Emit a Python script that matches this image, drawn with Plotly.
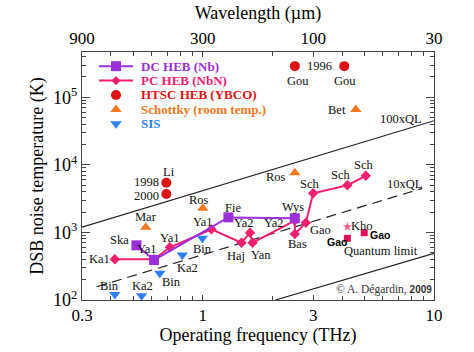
import math
import plotly.graph_objects as go

# ---------------- data ----------------
dc_f = [0.516, 0.615, 1.29, 2.5]
dc_T = [644, 391, 1670, 1620]

pc_f = [0.416, 0.615, 0.72, 1.09, 1.47, 1.60, 1.64, 2.5, 2.5, 2.79, 3.0, 4.22, 5.07]
pc_T = [400, 400, 603, 1110, 705, 990, 705, 1500, 946, 1390, 3790, 4980, 6900]

htsc_f = [0.695, 0.695, 2.5, 4.09]
htsc_T = [5430, 3700, 289000, 289000]

sch_f = [0.566, 1.0, 2.5, 4.59]
sch_T = [1190, 2270, 7640, 66200]

sis_f = [0.416, 0.543, 0.651, 0.815, 0.995]
sis_T = [121, 116, 248, 463, 818]

gao_f = [4.22, 4.99]
gao_T = [818, 990]
kho_f = [4.22]
kho_T = [1213]

ql100_f = [0.3, 10.0]
ql100_T = [1200, 45000]
ql10_f = [0.347, 8.9]
ql10_T = [157, 4490]
ql_f = [2.06, 10.0]
ql_T = [100, 490]

x_tickvals = [0.3, 1, 3, 10]
x_ticktext = ["0.3", "1", "3", "10"]
wl_ticktext = ["900", "300", "100", "30"]
x_minor = [0.4, 0.5, 0.6, 0.7, 0.8, 0.9, 2, 4, 5, 6, 7, 8, 9]
y_tickvals = [1e2, 1e3, 1e4, 1e5]
y_ticktext = ["10<sup>2</sup>", "10<sup>3</sup>", "10<sup>4</sup>", "10<sup>5</sup>"]
y_minor = [m * 10 ** e for e in range(2, 6) for m in range(2, 10)]

legend_names = ["DC HEB (Nb)", "PC HEB (NbN)", "HTSC HEB (YBCO)", "Schottky (room temp.)", "SIS"]

# labels: (text, f, T, kind)
labels = [
    ("Li", 0.714, 7910, "s"), ("1998", 0.570, 5510, "s"), ("2000", 0.570, 3490, "s"),
    ("Ros", 0.962, 3016, "s"), ("Mar", 0.566, 1672, "s"), ("Fie", 1.348, 2273, "s"),
    ("Ya1", 1.0, 1439, "s"), ("Ya2", 1.514, 1364, "s"), ("Ska", 0.438, 772, "s"),
    ("Ya1", 0.719, 818, "s"), ("Ya1", 0.574, 568, "s"), ("Ka1", 0.356, 408, "s"),
    ("Bin", 1.0, 568, "s"), ("Haj", 1.385, 448, "s"), ("Yan", 1.792, 463, "s"),
    ("Ka2", 0.857, 294, "s"), ("Bin", 0.731, 187, "s"), ("Bin", 0.393, 163, "s"),
    ("Ka2", 0.546, 163, "s"), ("Ros", 2.075, 6530, "s"), ("Sch", 2.917, 5200, "s"),
    ("Sch", 3.957, 7066, "s"), ("Sch", 4.99, 9930, "s"), ("10xQL", 7.42, 5200, "s"),
    ("Wys", 2.447, 2352, "s"), ("Ya2", 2.04, 1392, "s"), ("Gao", 3.213, 1085, "s"),
    ("Bas", 2.571, 674, "s"), ("Kho", 4.90, 1230, "s"), ("Gao", 5.85, 930, "b"),
    ("Gao", 3.79, 729, "b"), ("Quantum limit", 5.89, 531, "s"), ("1996", 3.19, 289500, "s"),
    ("Gou", 2.571, 173800, "s"), ("Gou", 4.13, 173800, "s"), ("Bet", 3.79, 64700, "s"),
    ("100xQL", 7.18, 47600, "s"),
]

# ---------------- style ----------------
SERIF = "'Liberation Serif', 'Times New Roman', Times, serif"
SANS = "'Liberation Sans', Arial, sans-serif"
PURPLE = "#9b30d8"
PINK = "#ee2070"
RED = "#dc1414"
ORANGE = "#f07820"
BLUE = "#2f7ff0"
GAO = "#e0105a"

fig = go.Figure()

def line(fx, ty, dash="solid"):
    fig.add_trace(go.Scatter(x=fx, y=ty, mode="lines", showlegend=False, hoverinfo="skip",
                             line=dict(color="#222222", width=1.2, dash=dash)))

line(ql100_f, ql100_T)
line(ql10_f, ql10_T, dash="10px,6px")
line(ql_f, ql_T)

fig.add_trace(go.Scatter(x=pc_f, y=pc_T, mode="lines+markers", showlegend=False,
                         line=dict(color=PINK, width=2),
                         marker=dict(symbol="diamond", size=8, color=PINK)))
fig.add_trace(go.Scatter(x=dc_f, y=dc_T, mode="lines+markers", showlegend=False,
                         line=dict(color=PURPLE, width=2),
                         marker=dict(symbol="square", size=10, color=PURPLE)))
fig.add_trace(go.Scatter(x=htsc_f, y=htsc_T, mode="markers", showlegend=False,
                         marker=dict(symbol="circle", size=10, color=RED)))
fig.add_trace(go.Scatter(x=sch_f, y=sch_T, mode="markers", showlegend=False,
                         marker=dict(symbol="triangle-up", size=10, color=ORANGE)))
fig.add_trace(go.Scatter(x=sis_f, y=sis_T, mode="markers", showlegend=False,
                         marker=dict(symbol="triangle-down", size=10, color=BLUE)))
fig.add_trace(go.Scatter(x=gao_f, y=gao_T, mode="markers", showlegend=False,
                         marker=dict(symbol="square", size=7, color=GAO)))
fig.add_trace(go.Scatter(x=kho_f, y=kho_T, mode="markers", showlegend=False,
                         marker=dict(symbol="star", size=7, color="#f26090")))

# top wavelength axis holder
fig.add_trace(go.Scatter(x=[0.3, 10], y=[None, None], xaxis="x2", mode="lines",
                         showlegend=False, hoverinfo="skip"))

# ---------------- legend (inset axes) ----------------
leg_colors = [PURPLE, PINK, RED, ORANGE, BLUE]
leg_symbols = ["square", "diamond", "circle", "triangle-up", "triangle-down"]
leg_sizes = [10, 7, 10, 10, 10]
leg_lines = [True, True, False, False, False]
for i, name in enumerate(legend_names):
    if leg_lines[i]:
        fig.add_trace(go.Scatter(x=[0, 1], y=[i, i], xaxis="x3", yaxis="y3", mode="lines",
                                 showlegend=False, hoverinfo="skip",
                                 line=dict(color=leg_colors[i], width=2)))
    fig.add_trace(go.Scatter(x=[0.5], y=[i], xaxis="x3", yaxis="y3", mode="markers",
                             showlegend=False, hoverinfo="skip",
                             marker=dict(symbol=leg_symbols[i], size=leg_sizes[i], color=leg_colors[i])))

annotations = []
for i, name in enumerate(legend_names):
    annotations.append(dict(text="<b>%s</b>" % name, x=1.18, y=i, xref="x3", yref="y3",
                            xanchor="left", yanchor="middle", showarrow=False,
                            font=dict(family=SERIF, size=13, color=leg_colors[i])))

for text, f, T, kind in labels:
    if kind == "b":
        font = dict(family=SANS, size=10.5, color="black")
        text = "<b>%s</b>" % text
    else:
        font = dict(family=SERIF, size=12.5, color="#111111")
    annotations.append(dict(text=text, x=math.log10(f), y=math.log10(T), xref="x", yref="y",
                            showarrow=False, xanchor="center", yanchor="middle", font=font))

annotations.append(dict(
    text="© A. Dégardin, <span style='font-family:Liberation Sans;font-weight:bold;font-size:10px'>2009</span>",
    x=math.log10(6.08), y=math.log10(141), xref="x", yref="y", showarrow=False,
    font=dict(family=SERIF, size=11.5, color="#333333")))

axis_common = dict(showline=True, linecolor="#444444", linewidth=1, ticks="inside",
                   tickcolor="#444444", showgrid=False, zeroline=False)

fig.update_layout(
    width=474, height=352,
    margin=dict(l=82, r=40, t=52, b=52),
    paper_bgcolor="white", plot_bgcolor="white",
    font=dict(family=SERIF, color="black"),
    xaxis=dict(type="log", range=[math.log10(0.3), 1], tickmode="array",
               tickvals=x_tickvals, ticktext=x_ticktext, ticklen=5,
               minor=dict(tickmode="array", tickvals=x_minor, ticks="inside", ticklen=4,
                          tickcolor="#444444"),
               tickfont=dict(family=SERIF, size=17),
               title=dict(text="Operating frequency (THz)", font=dict(family=SERIF, size=18),
                          standoff=2),
               **axis_common),
    xaxis2=dict(type="log", range=[math.log10(0.3), 1], overlaying="x", side="top",
                anchor="y", tickmode="array", tickvals=x_tickvals, ticktext=wl_ticktext,
                ticklen=5,
                minor=dict(tickmode="array", tickvals=x_minor, ticks="inside", ticklen=4,
                           tickcolor="#444444"),
                tickfont=dict(family=SERIF, size=17),
                title=dict(text="Wavelength (µm)", font=dict(family=SERIF, size=18),
                           standoff=4),
                **axis_common),
    yaxis=dict(type="log", range=[2, 5.67], tickmode="array", tickvals=y_tickvals,
               ticktext=y_ticktext, ticklen=8, mirror="ticks",
               minor=dict(tickmode="array", tickvals=y_minor, ticks="inside", ticklen=4,
                          tickcolor="#444444"),
               tickfont=dict(family=SERIF, size=18),
               title=dict(text="DSB noise temperature (K)", font=dict(family=SERIF, size=18),
                          standoff=4),
               **axis_common),
    xaxis3=dict(domain=[0.0483, 0.4460], range=[0, 4.118], visible=False, anchor="y3"),
    yaxis3=dict(domain=[0.6815, 0.9718], range=[4.5, -0.5], visible=False, anchor="x3"),
    annotations=annotations,
    showlegend=False,
)

fig.write_html("out.html")
